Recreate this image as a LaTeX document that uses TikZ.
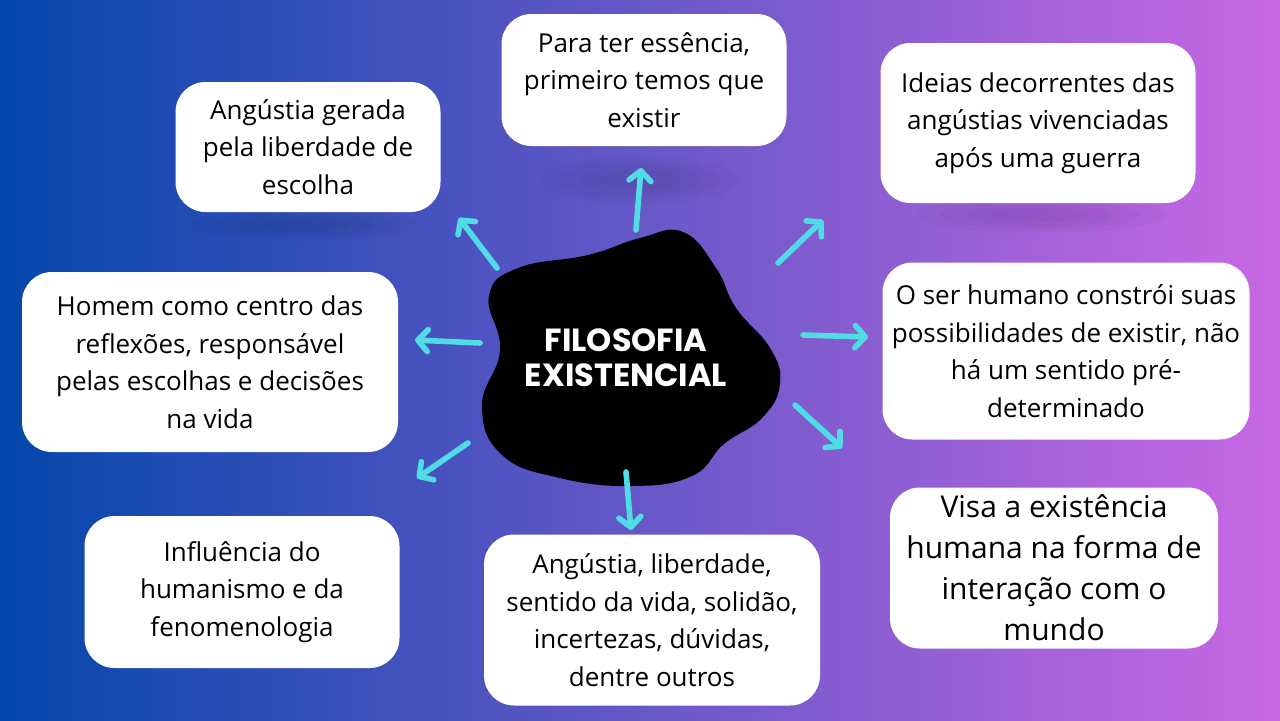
\documentclass[tikz,border=0pt]{standalone}
\usepackage{fontspec}
\setmainfont{Open Sans}
\newfontfamily\titlefont{Poppins}
\usepackage{tikz}
\usetikzlibrary{arrows.meta}
\usepackage{xcolor}
\definecolor{bgleft}{RGB}{4,71,171}
\definecolor{bgmid}{RGB}{96,88,201}
\definecolor{bgright}{RGB}{201,104,228}
\definecolor{arrowcyan}{RGB}{80,220,228}

\begin{document}
\begin{tikzpicture}[
    x=0.5pt,y=0.5pt,font=\fontsize{13}{18.75}\selectfont,
    card/.style={fill=white,rounded corners=15pt,inner sep=0pt,align=center,text=black},
    pointer/.style={-{Straight Barb[round,length=5pt,width=11pt]},draw=arrowcyan,line width=2.8pt,line cap=round},
    cardshadow/.style={fill=black,opacity=0.025}
]
% Background with horizontal gradient.
\useasboundingbox (0,0) rectangle (1280,720);
\shade[left color=bgleft,middle color=bgmid,right color=bgright] (0,0) rectangle (1280,720);
% Faint, soft shadows under the upper cards.
\foreach \k in {1,0.8,0.6,0.4}{
    \fill[cardshadow] (305,495) ellipse[x radius=115*\k,y radius=16*\k];
    \fill[cardshadow] (640,540) ellipse[x radius=100*\k,y radius=24*\k];
    \fill[cardshadow] (1040,505) ellipse[x radius=125*\k,y radius=18*\k];
}
% Cards.
\node[card,minimum width=132.5pt,minimum height=65pt] (liberdade) at (308,573)
    {Angústia gerada\\pela liberdade de\\escolha};
\node[card,minimum width=142.5pt,minimum height=66pt] (essencia) at (644,640)
    {Para ter essência,\\primeiro temos que\\existir};
\node[card,minimum width=157.5pt,minimum height=80pt] (guerra) at (1038,597)
    {Ideias decorrentes das\\angústias vivenciadas\\após uma guerra};
\node[card,minimum width=188pt,minimum height=90pt] (homem) at (210,358)
    {Homem como centro das\\reflexões, responsável\\pelas escolhas e decisões\\na vida};
\node[card,minimum width=183.5pt,minimum height=88.5pt] (possibilidades) at (1066,369)
    {O ser humano constrói suas\\possibilidades de existir, não\\há um sentido pré-\\determinado};
\node[card,minimum width=157.5pt,minimum height=76pt] (humanismo) at (242,128)
    {Influência do\\humanismo e da\\fenomenologia};
\node[card,minimum width=168pt,minimum height=85.5pt] (angustias) at (652,100)
    {Angústia, liberdade,\\sentido da vida, solidão,\\incertezas, dúvidas,\\dentre outros};
\node[card,minimum width=164pt,minimum height=80.5pt,font=\fontsize{15}{20.5}\selectfont] (mundo) at (1054,152)
    {Visa a existência\\humana na forma de\\interação com o\\mundo};
% Central black blob.
\fill[black] plot[smooth cycle,tension=0.75] coordinates {
    (683,488) (716,452) (736,412) (770,372) (780,336) (762,302)
    (724,276) (692,244) (632,234) (560,242) (502,265) (482,314)
    (500,370) (489,424) (518,452) (588,465) (640,482)};
\node[text=white,font=\titlefont\fontsize{16}{17.5}\selectfont\bfseries,align=center] (titulo) at (626,362)
    {FILOSOFIA\\EXISTENCIAL};
% Arrow ends.
\coordinate (s1) at (497,452); \coordinate (t1) at (459,502);
\coordinate (s2) at (636,490); \coordinate (t2) at (641,552);
\coordinate (s3) at (778,457); \coordinate (t3) at (823,500);
\coordinate (s4) at (803,385); \coordinate (t4) at (868,383);
\coordinate (s5) at (795,315); \coordinate (t5) at (842,272);
\coordinate (s6) at (480,377); \coordinate (t6) at (415,380);
\coordinate (s7) at (468,277); \coordinate (t7) at (417,242);
\coordinate (s8) at (626,248); \coordinate (t8) at (631,190);
\draw[pointer] (s1) -- (t1);
\draw[pointer] (s2) -- (t2);
\draw[pointer] (s3) -- (t3);
\draw[pointer] (s4) -- (t4);
\draw[pointer] (s5) -- (t5);
\draw[pointer] (s6) -- (t6);
\draw[pointer] (s7) -- (t7);
\draw[pointer] (s8) -- (t8);
\end{tikzpicture}
\end{document}
